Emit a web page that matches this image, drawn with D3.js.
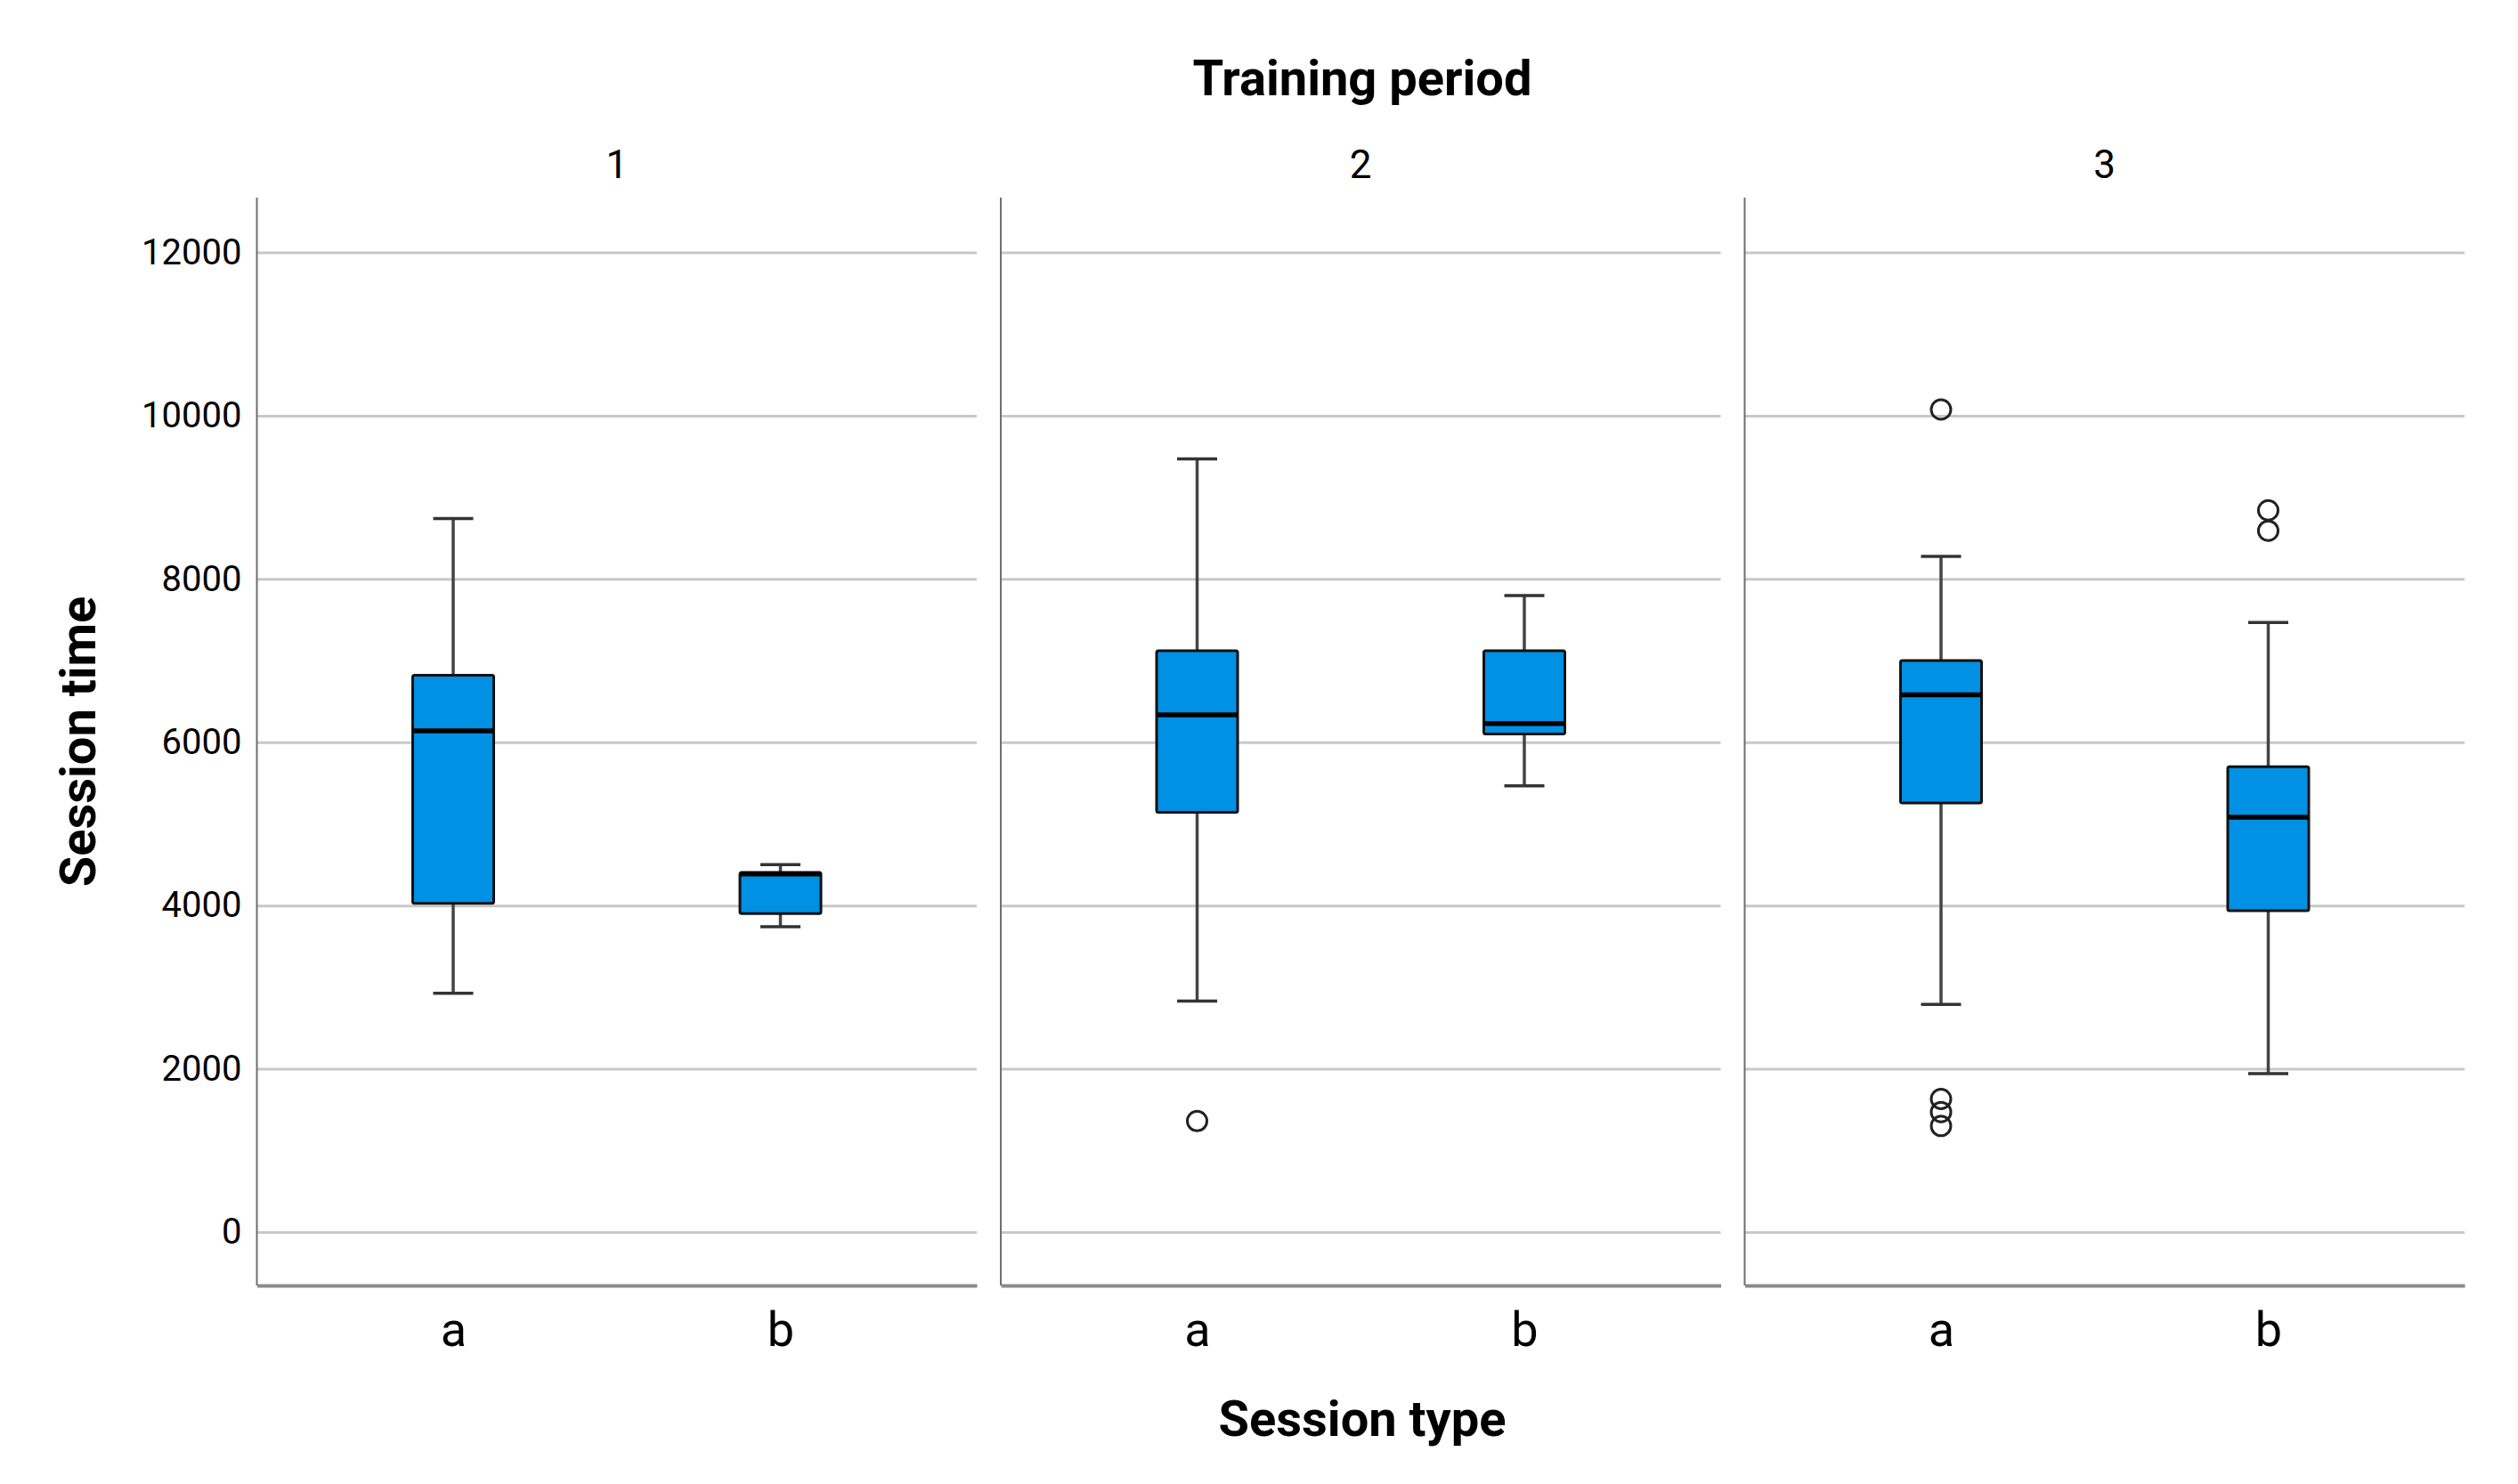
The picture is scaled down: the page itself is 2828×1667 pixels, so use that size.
<!DOCTYPE html>
<html>
    <head>
        <script src="https://d3js.org/d3.v7.min.js"></script>
        <style>
            body{margin:0;background:#fff;}
            text{font-family:Roboto, "Liberation Sans", sans-serif;fill:#000;}
        </style>
    </head>
    <body>
        <svg width="2828" height="1667" id="chart"></svg>
        <script>
            // data
            const periods=["1","2","3"];
            const sessionTypes=["a","b"];
            const yTicks=[0,2000,4000,6000,8000,10000,12000];

            const boxPeriod=["1","1","2","2","3","3"];
            const boxType=["a","b","a","b","a","b"];
            const whiskerLow=[2925,3740,2830,5465,2790,1940];
            const q1=[4025,3900,5140,6100,5255,3935];
            const median=[6140,4385,6335,6230,6580,5080];
            const q3=[6820,4405,7120,7120,7000,5700];
            const whiskerHigh=[8740,4500,9470,7795,8275,7465];

            const outlierPeriod=["2","3","3","3","3","3","3"];
            const outlierType=["a","a","a","a","a","b","b"];
            const outlierValue=[1360,10075,1630,1470,1300,8840,8590];

            let svg=d3.select("#chart");

            let fx=d3.scaleBand().domain(periods).range([288.5,2768]).paddingInner(0.0323);
            let bw=fx.bandwidth();
            let x=d3.scalePoint().domain(sessionTypes).range([0,bw]).padding(0.6);
            let y=d3.scaleLinear().domain([-654,12670]).range([1444,222]);

            const boxW=91, capW=45;

            let boxes=boxPeriod.map((p,i)=>({period:p,type:boxType[i],lo:whiskerLow[i],q1:q1[i],med:median[i],q3:q3[i],hi:whiskerHigh[i]}));
            let outliers=outlierPeriod.map((p,i)=>({period:p,type:outlierType[i],v:outlierValue[i]}));

            // titles
            svg.append("text").attr("x",1530).attr("y",107).attr("text-anchor","middle")
                .attr("font-size",56).attr("font-weight","bold").text("Training period");
            svg.append("text").attr("x",1530).attr("y",1613).attr("text-anchor","middle")
                .attr("font-size",56).attr("font-weight","bold").text("Session type");
            svg.append("text").attr("transform","translate(107,833) rotate(-90)").attr("text-anchor","middle")
                .attr("font-size",56).attr("font-weight","bold").text("Session time");

            // y tick labels
            let yAxis=svg.append("g").attr("transform","translate(288.5,0)")
                .call(d3.axisLeft(y).tickValues(yTicks).tickFormat(d3.format("d")).tickSize(0).tickPadding(17));
            yAxis.select(".domain").remove();
            yAxis.selectAll("text").attr("font-size",40).attr("font-family","Roboto").attr("fill","#222");

            let panels=svg.selectAll("g.panel").data(periods).join("g")
                .attr("class","panel")
                .attr("transform",d=>`translate(${fx(d)},0)`);

            panels.append("text").attr("x",bw/2).attr("y",200).attr("text-anchor","middle")
                .attr("font-size",44).text(d=>d);

            // gridlines
            panels.each(function(){
                let g=d3.select(this).append("g")
                    .call(d3.axisLeft(y).tickValues(yTicks).tickSize(-bw).tickFormat(""));
                g.select(".domain").remove();
                g.selectAll("line").attr("stroke","#c8c8c8").attr("stroke-width",3);
            });

            // left axis line
            panels.append("line").attr("x1",0).attr("x2",0).attr("y1",y.range()[1]).attr("y2",y.range()[0])
                .attr("stroke","#6e6e6e").attr("stroke-width",2);

            // bottom axis
            panels.each(function(){
                let g=d3.select(this).append("g").attr("transform",`translate(0,${y.range()[0]})`)
                    .call(d3.axisBottom(x).tickSize(0).tickPadding(30));
                g.select(".domain").attr("stroke","#8a8a8a").attr("stroke-width",4);
                g.selectAll("text").attr("font-size",54).attr("font-family","Roboto").attr("fill","#111");
            });

            // boxes
            panels.each(function(p){
                let g=d3.select(this);
                let bs=boxes.filter(b=>b.period===p);
                let bg=g.selectAll("g.box").data(bs).join("g").attr("class","box")
                    .attr("transform",d=>`translate(${x(d.type)},0)`);
                bg.append("line").attr("y1",d=>y(d.hi)).attr("y2",d=>y(d.q3))
                    .attr("stroke","#444").attr("stroke-width",3.5);
                bg.append("line").attr("y1",d=>y(d.q1)).attr("y2",d=>y(d.lo))
                    .attr("stroke","#444").attr("stroke-width",3.5);
                bg.append("line").attr("x1",-capW/2).attr("x2",capW/2).attr("y1",d=>y(d.hi)).attr("y2",d=>y(d.hi))
                    .attr("stroke","#333").attr("stroke-width",3.5);
                bg.append("line").attr("x1",-capW/2).attr("x2",capW/2).attr("y1",d=>y(d.lo)).attr("y2",d=>y(d.lo))
                    .attr("stroke","#333").attr("stroke-width",3.5);
                bg.append("rect").attr("x",-boxW/2).attr("width",boxW)
                    .attr("y",d=>y(d.q3)).attr("height",d=>y(d.q1)-y(d.q3))
                    .attr("rx",2)
                    .attr("fill","#0090e4").attr("stroke","#111").attr("stroke-width",3);
                bg.append("line").attr("x1",-boxW/2+1).attr("x2",boxW/2-1).attr("y1",d=>y(d.med)).attr("y2",d=>y(d.med))
                    .attr("stroke","#000").attr("stroke-width",5.5);

                g.selectAll("circle.outlier").data(outliers.filter(o=>o.period===p)).join("circle")
                    .attr("class","outlier")
                    .attr("cx",d=>x(d.type)).attr("cy",d=>y(d.v)).attr("r",11)
                    .attr("fill","none").attr("stroke","#222").attr("stroke-width",3);
            });
        </script>
    </body>
</html>
